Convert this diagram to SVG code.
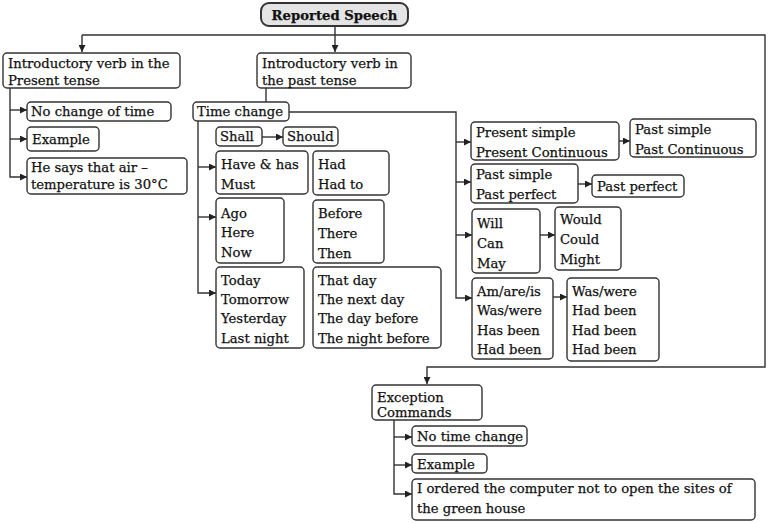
<svg xmlns="http://www.w3.org/2000/svg" width="768" height="523" viewBox="0 0 768 523">
<style>
.b{fill:#fff;stroke:#333;stroke-width:1.4}
.t{font-family:"DejaVu Serif","Liberation Serif",serif;font-size:13.2px;fill:#111;stroke:#111;stroke-width:0.25}
.c{fill:none;stroke:#333;stroke-width:1.4}
</style>
<defs>
<marker id="ah" viewBox="0 0 10 10" refX="10" refY="5" markerWidth="9" markerHeight="7" markerUnits="userSpaceOnUse" orient="auto">
<path d="M0,0 L10,5 L0,10 z" fill="#222"/>
</marker>
</defs>
<rect width="768" height="523" fill="#fff"/>
<g id="connectors">
<path class="c" d="M82,35 H765 V367 H427 V384" marker-end="url(#ah)"/>
<path class="c" d="M82,35 V52" marker-end="url(#ah)"/>
<path class="c" d="M335,26 V52" marker-end="url(#ah)"/>
<path class="c" d="M10,88 V177 H27" marker-end="url(#ah)"/>
<path class="c" d="M10,110 H27" marker-end="url(#ah)"/>
<path class="c" d="M10,139 H27" marker-end="url(#ah)"/>
<path class="c" d="M266,88 V102"/>
<path class="c" d="M198,121 V293 H216" marker-end="url(#ah)"/>
<path class="c" d="M198,167 H216" marker-end="url(#ah)"/>
<path class="c" d="M198,217 H216" marker-end="url(#ah)"/>
<path class="c" d="M262,137 H283" marker-end="url(#ah)"/>
<path class="c" d="M289,112 H456 V298 H472" marker-end="url(#ah)"/>
<path class="c" d="M456,142 H471" marker-end="url(#ah)"/>
<path class="c" d="M456,182 H471" marker-end="url(#ah)"/>
<path class="c" d="M456,235 H472" marker-end="url(#ah)"/>
<path class="c" d="M619,141 H630" marker-end="url(#ah)"/>
<path class="c" d="M578,184 H592" marker-end="url(#ah)"/>
<path class="c" d="M540,235 H555" marker-end="url(#ah)"/>
<path class="c" d="M553,297 H567" marker-end="url(#ah)"/>
<path class="c" d="M394,420 V494 H412" marker-end="url(#ah)"/>
<path class="c" d="M394,437 H412" marker-end="url(#ah)"/>
<path class="c" d="M394,465 H412" marker-end="url(#ah)"/>
</g>
<g id="root"><rect x="261" y="3" width="147" height="23" rx="8" fill="#e4e4e4" stroke="#333" stroke-width="2"/><text class="t" x="334.5" y="20" text-anchor="middle" font-weight="bold">Reported Speech</text></g>
<g id="present"><rect class="b" x="3" y="53" width="177" height="35" rx="4"/><text class="t" x="8" y="68">Introductory verb in the</text><text class="t" x="8" y="85">Present tense</text></g>
<g id="past"><rect class="b" x="257" y="53" width="154" height="35" rx="4"/><text class="t" x="262" y="68">Introductory verb in</text><text class="t" x="262" y="85">the past tense</text></g>
<g id="nochange1"><rect class="b" x="27" y="102" width="144" height="19" rx="4"/><text class="t" x="31" y="116">No change of time</text></g>
<g id="example1"><rect class="b" x="27" y="127" width="72" height="24" rx="4"/><text class="t" x="32" y="144">Example</text></g>
<g id="hesays"><rect class="b" x="27" y="158" width="160" height="36" rx="4"/><text class="t" x="31" y="172">He says that air –</text><text class="t" x="31" y="189">temperature is 30°C</text></g>
<g id="timechange"><rect class="b" x="193" y="102" width="96" height="19" rx="4"/><text class="t" x="197" y="116">Time change</text></g>
<g id="shall"><rect class="b" x="216" y="127" width="46" height="19" rx="4"/><text class="t" x="220" y="141">Shall</text></g>
<g id="should"><rect class="b" x="283" y="127" width="55" height="19" rx="4"/><text class="t" x="287" y="141">Should</text></g>
<g id="have"><rect class="b" x="216" y="151" width="92" height="43" rx="4"/><text class="t" x="221" y="169">Have &amp; has</text><text class="t" x="221" y="189">Must</text></g>
<g id="had"><rect class="b" x="313" y="151" width="76" height="44" rx="4"/><text class="t" x="318" y="169">Had</text><text class="t" x="318" y="189">Had to</text></g>
<g id="ago"><rect class="b" x="216" y="198" width="68" height="65" rx="4"/><text class="t" x="221" y="218">Ago</text><text class="t" x="221" y="237">Here</text><text class="t" x="221" y="257">Now</text></g>
<g id="before"><rect class="b" x="313" y="200" width="71" height="63" rx="4"/><text class="t" x="318" y="218">Before</text><text class="t" x="318" y="238">There</text><text class="t" x="318" y="258">Then</text></g>
<g id="today"><rect class="b" x="216" y="267" width="88" height="81" rx="4"/><text class="t" x="221" y="285">Today</text><text class="t" x="221" y="304">Tomorrow</text><text class="t" x="221" y="323">Yesterday</text><text class="t" x="221" y="343">Last night</text></g>
<g id="thatday"><rect class="b" x="313" y="267" width="128" height="81" rx="4"/><text class="t" x="318" y="285">That day</text><text class="t" x="318" y="304">The next day</text><text class="t" x="318" y="323">The day before</text><text class="t" x="318" y="343">The night before</text></g>
<g id="presimple"><rect class="b" x="471" y="122" width="148" height="38" rx="4"/><text class="t" x="476" y="137">Present simple</text><text class="t" x="476" y="157">Present Continuous</text></g>
<g id="pastsimple1"><rect class="b" x="630" y="119" width="126" height="38" rx="4"/><text class="t" x="635" y="134">Past simple</text><text class="t" x="635" y="154">Past Continuous</text></g>
<g id="pastsimple2"><rect class="b" x="471" y="164" width="107" height="39" rx="4"/><text class="t" x="476" y="179">Past simple</text><text class="t" x="476" y="199">Past perfect</text></g>
<g id="pastperfect"><rect class="b" x="592" y="175" width="92" height="22" rx="4"/><text class="t" x="597" y="191">Past perfect</text></g>
<g id="will"><rect class="b" x="472" y="209" width="68" height="64" rx="4"/><text class="t" x="477" y="228">Will</text><text class="t" x="477" y="248">Can</text><text class="t" x="477" y="268">May</text></g>
<g id="would"><rect class="b" x="555" y="207" width="66" height="63" rx="4"/><text class="t" x="560" y="224">Would</text><text class="t" x="560" y="244">Could</text><text class="t" x="560" y="264">Might</text></g>
<g id="am"><rect class="b" x="472" y="278" width="81" height="81" rx="4"/><text class="t" x="477" y="296">Am/are/is</text><text class="t" x="477" y="315">Was/were</text><text class="t" x="477" y="335">Has been</text><text class="t" x="477" y="354">Had been</text></g>
<g id="was"><rect class="b" x="567" y="278" width="92" height="83" rx="4"/><text class="t" x="572" y="296">Was/were</text><text class="t" x="572" y="315">Had been</text><text class="t" x="572" y="335">Had been</text><text class="t" x="572" y="354">Had been</text></g>
<g id="exception"><rect class="b" x="372" y="385" width="110" height="35" rx="4"/><text class="t" x="377" y="402">Exception</text><text class="t" x="377" y="417">Commands</text></g>
<g id="nochange2"><rect class="b" x="412" y="426" width="115" height="20" rx="4"/><text class="t" x="417" y="441">No time change</text></g>
<g id="example2"><rect class="b" x="412" y="454" width="75" height="19" rx="4"/><text class="t" x="417" y="469">Example</text></g>
<g id="ordered"><rect class="b" x="412" y="479" width="343" height="41" rx="4"/><text class="t" x="417" y="493">I ordered the computer not to open the sites of</text><text class="t" x="417" y="513">the green house</text></g>
</svg>
